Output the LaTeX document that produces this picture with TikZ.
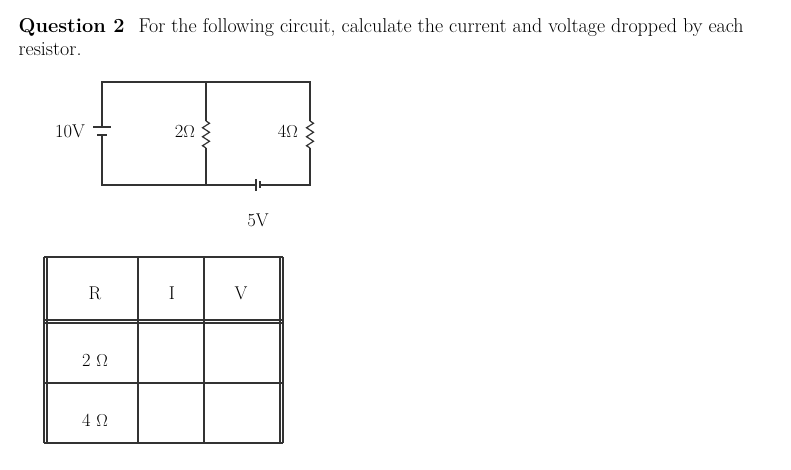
\documentclass[tikz,border=0pt]{standalone}
\usetikzlibrary{calc}
\begin{document}
\begin{tikzpicture}[x=1pt,y=-1pt,line width=1.2pt,
  lbl/.style={font=\fontsize{18.5}{22}\selectfont,inner sep=0pt},
  ttl/.style={font=\fontsize{20}{24}\selectfont,inner sep=0pt},
  wire/.style={draw=black!80}]
\useasboundingbox (0,0) rectangle (791,470);
% title
\node[ttl,anchor=base west] (q) at (18,33) {\textbf{Question 2}};
\node[ttl,anchor=base west] (qa) at (138,33) {For the following circuit, calculate the current and voltage dropped by each};
\node[ttl,anchor=base west] (q2) at (18,56) {resistor.};
% circuit corners
\coordinate (tl) at (102,82); \coordinate (tm) at (206,82); \coordinate (tr) at (310,82);
\coordinate (bl) at (102,185); \coordinate (bm) at (206,185); \coordinate (br) at (310,185);
\coordinate (b1a) at (102,127); \coordinate (b1b) at (102,135);
\coordinate (r1a) at (206,121); \coordinate (r1b) at (206,148);
\coordinate (r2a) at (310,121); \coordinate (r2b) at (310,148);
\coordinate (b2a) at (256,185); \coordinate (b2b) at (260,185);
\draw[wire] (b1a) -- (tl) -- (tr) -- (r2a);
\draw[wire] (r2b) -- (br) -- (b2b);
\draw[wire] (b2a) -- (bl) -- (b1b);
\draw[wire] (tm) -- (r1a); \draw[wire] (r1b) -- (bm);
% battery 10V
\draw[wire] ($(b1a)+(-9,0)$) -- ($(b1a)+(9,0)$);
\draw[wire] ($(b1b)+(-5,0)$) -- ($(b1b)+(5,0)$);
% battery 5V
\draw[wire] ($(b2a)+(0,-6)$) -- ($(b2a)+(0,6)$);
\draw[wire] ($(b2b)+(0,-3.5)$) -- ($(b2b)+(0,3.5)$);
% resistors
\foreach \c in {r1a,r2a}{
 \draw[wire] (\c) -- ++(3.5,2.25) -- ++(-7,4.5) -- ++(7,4.5) -- ++(-7,4.5) -- ++(7,4.5) -- ++(-7,4.5) -- ++(3.5,2.25);
}
\node[lbl] (l10) at (70,131) {10V};
\node[lbl] (l2) at (185,131) {2$\Omega$};
\node[lbl] (l4) at (288,131) {4$\Omega$};
\node[lbl] (l5) at (258,220) {5V};
% table
\draw[wire] (44,257) -- (283,257) (44,443) -- (283,443) (44,320) -- (283,320) (44,323) -- (283,323) (44,383) -- (283,383);
\foreach \x in {44,47,138,204,280,283} \draw[wire] (\x,257) -- (\x,443);
\node[lbl] (tR) at (95,293) {R};
\node[lbl] (tI) at (172,293) {I};
\node[lbl] (tV) at (241,293) {V};
\node[lbl] (t2) at (95,360) {2 $\Omega$};
\node[lbl] (t4) at (95,420) {4 $\Omega$};
\end{tikzpicture}
\end{document}
